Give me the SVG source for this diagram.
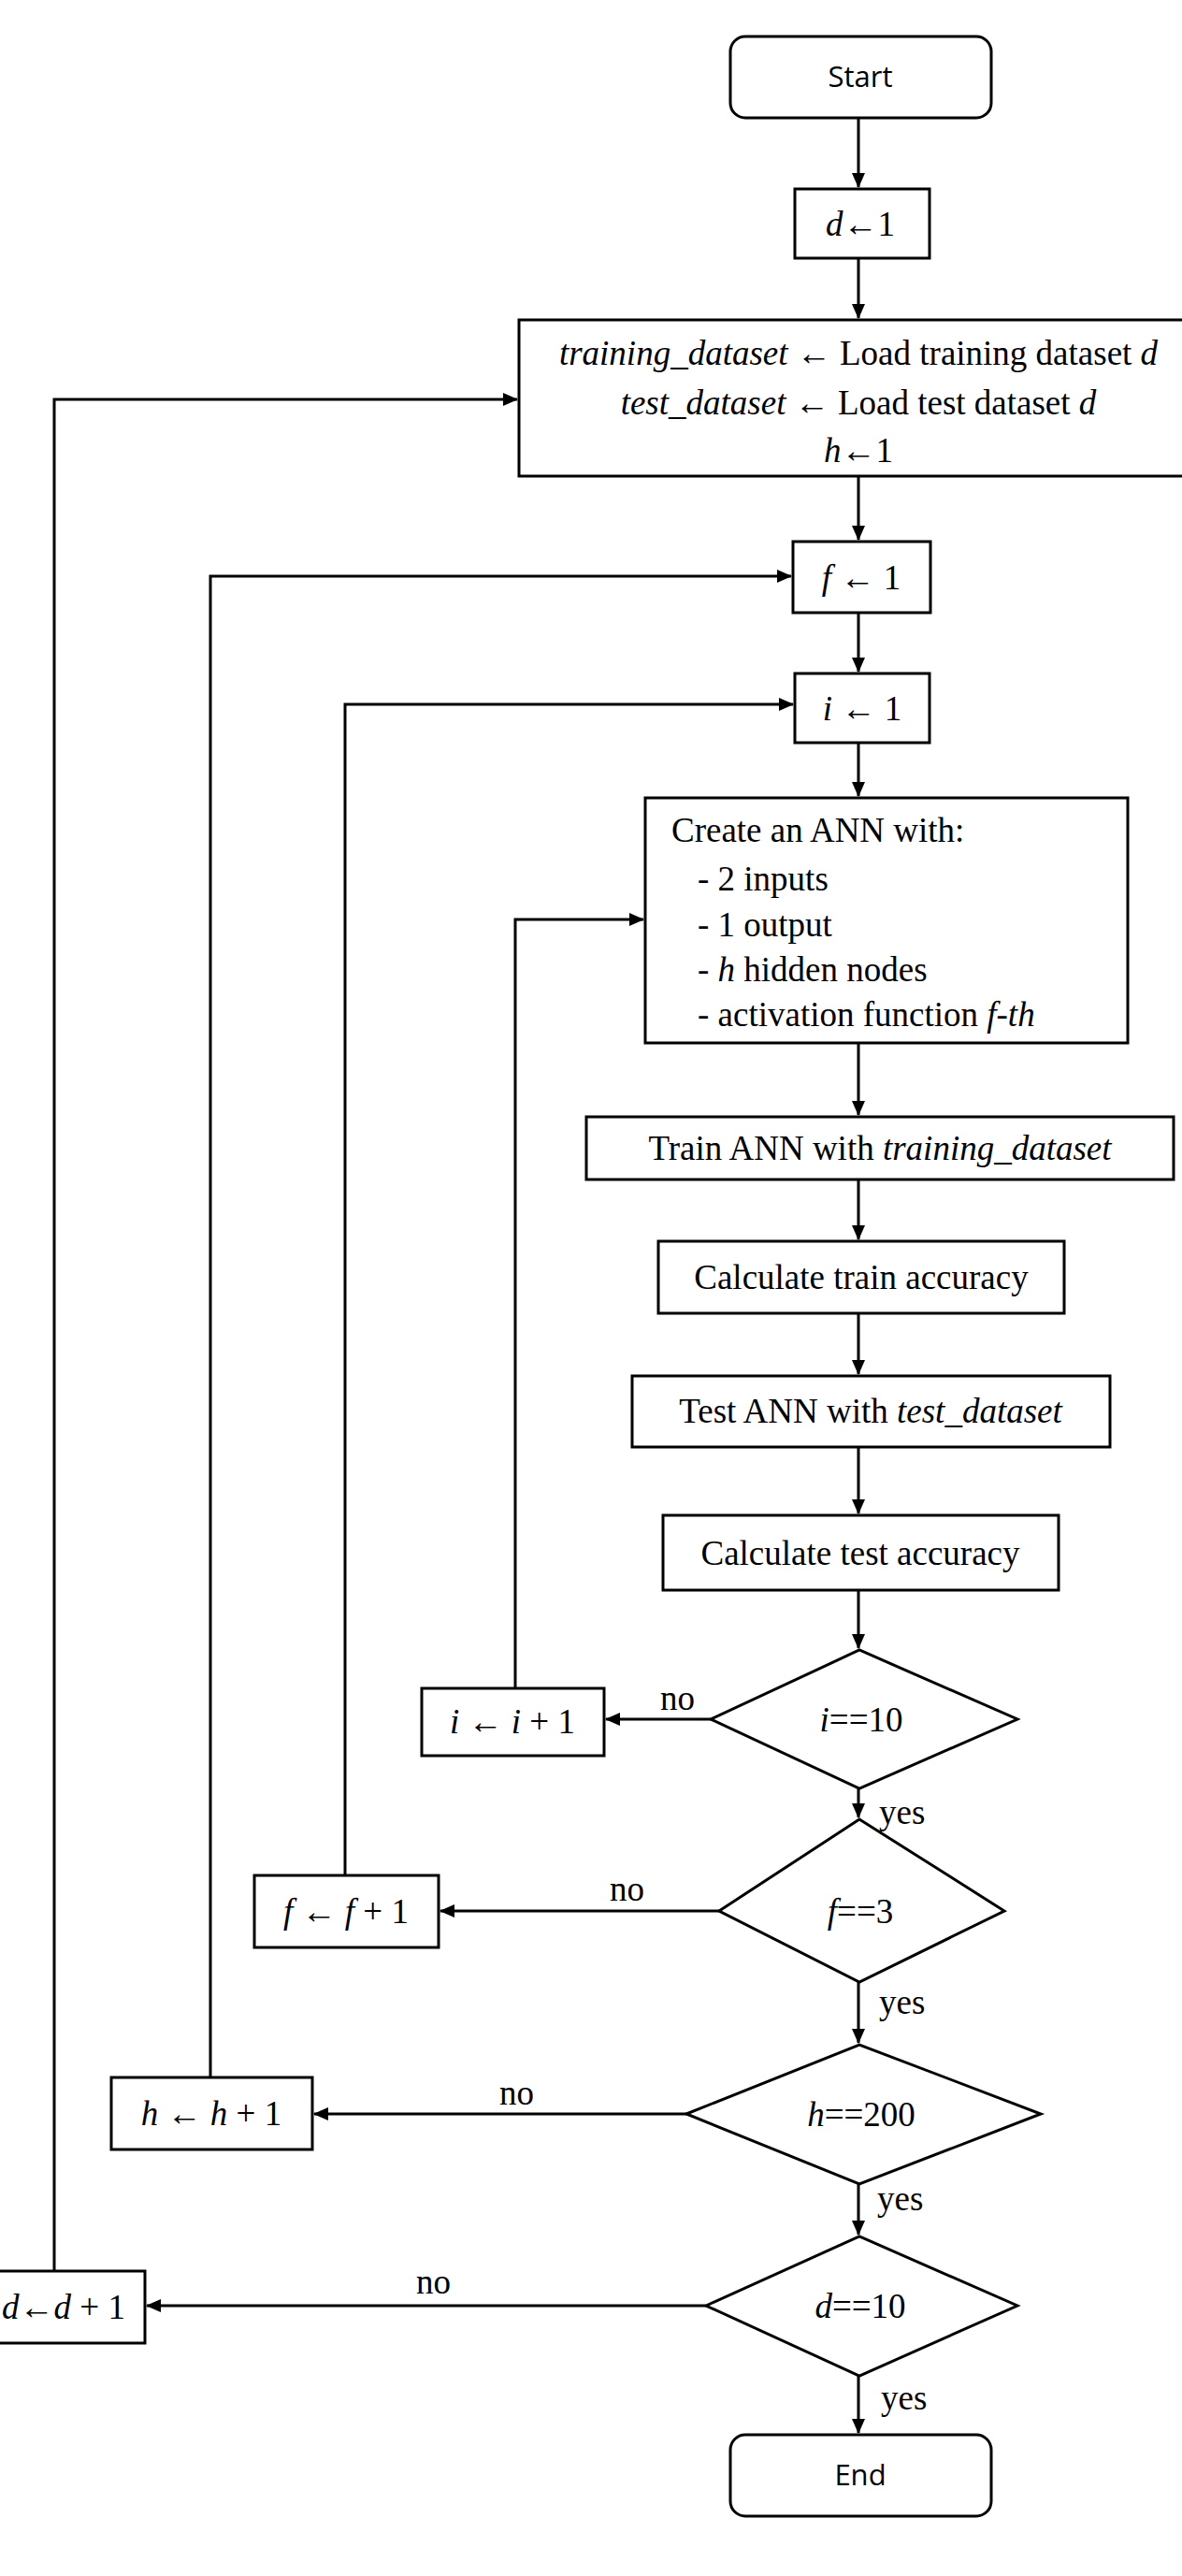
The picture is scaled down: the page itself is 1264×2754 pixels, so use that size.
<svg xmlns="http://www.w3.org/2000/svg" width="1264" height="2754" viewBox="0 0 1264 2754">
<style>
.b{fill:#fff;stroke:#000;stroke-width:3}
.t{font-family:"Liberation Serif",serif;font-size:37px;fill:#000}
.s{font-family:"Open Sans","Liberation Sans",sans-serif;font-size:31px;fill:#000}
.c{fill:none;stroke:#000;stroke-width:3}
.m{text-anchor:middle}
</style>
<defs><marker id="a" markerWidth="16" markerHeight="16" refX="15" refY="8" orient="auto" markerUnits="userSpaceOnUse" viewBox="0 0 16 16"><path d="M0,1L16,8L0,15z" fill="#000"/></marker></defs>
<rect width="1264" height="2754" fill="#fff"/>
<g id="connectors">
<path class="c" marker-end="url(#a)" d="M918,126V200"/>
<path class="c" marker-end="url(#a)" d="M918,276V340"/>
<path class="c" marker-end="url(#a)" d="M918,509V577"/>
<path class="c" marker-end="url(#a)" d="M918,655V718"/>
<path class="c" marker-end="url(#a)" d="M918,794V851"/>
<path class="c" marker-end="url(#a)" d="M918,1115V1192"/>
<path class="c" marker-end="url(#a)" d="M918,1261V1325"/>
<path class="c" marker-end="url(#a)" d="M918,1404V1469"/>
<path class="c" marker-end="url(#a)" d="M918,1547V1618"/>
<path class="c" marker-end="url(#a)" d="M918,1700V1762"/>
<path class="c" marker-end="url(#a)" d="M918,1912V1943"/>
<path class="c" marker-end="url(#a)" d="M918,2119V2184"/>
<path class="c" marker-end="url(#a)" d="M918,2335V2389"/>
<path class="c" marker-end="url(#a)" d="M918,2540V2601"/>
<path class="c" marker-end="url(#a)" d="M760,1838H648"/>
<path class="c" marker-end="url(#a)" d="M769,2043H471"/>
<path class="c" marker-end="url(#a)" d="M734,2260H336"/>
<path class="c" marker-end="url(#a)" d="M755,2465H157"/>
<path class="c" marker-end="url(#a)" d="M551,1805V983H688"/>
<path class="c" marker-end="url(#a)" d="M369,2005V753H848"/>
<path class="c" marker-end="url(#a)" d="M225,2221V616H846"/>
<path class="c" marker-end="url(#a)" d="M58,2428V427H553"/>
<text class="t" x="706" y="1828">no</text>
<text class="t" x="652" y="2032">no</text>
<text class="t" x="534" y="2250">no</text>
<text class="t" x="445" y="2452">no</text>
<text class="t" x="940" y="1950">yes</text>
<text class="t" x="940" y="2153">yes</text>
<text class="t" x="938" y="2363">yes</text>
<text class="t" x="942" y="2576">yes</text>
</g>
<g id="start"><rect class="b" x="781" y="39" width="279" height="87" rx="16"/><text class="s m" x="920" y="93">Start</text></g>
<g id="d1"><rect class="b" x="850" y="202" width="144" height="74"/><text class="t m" x="920" y="252"><tspan font-style="italic">d</tspan>←1</text></g>
<g id="load"><rect class="b" x="555" y="342" width="712" height="167"/>
<text class="t m" x="918" y="390"><tspan font-style="italic">training_dataset</tspan> ← Load training dataset <tspan font-style="italic">d</tspan></text>
<text class="t m" x="918" y="443"><tspan font-style="italic">test_dataset</tspan> ← Load test dataset <tspan font-style="italic">d</tspan></text>
<text class="t m" x="918" y="494"><tspan font-style="italic">h</tspan>←1</text></g>
<g id="f1"><rect class="b" x="848" y="579" width="147" height="76"/><text class="t m" x="921" y="630"><tspan font-style="italic">f</tspan> ← 1</text></g>
<g id="i1"><rect class="b" x="850" y="720" width="144" height="74"/><text class="t m" x="922" y="770"><tspan font-style="italic">i</tspan> ← 1</text></g>
<g id="create"><rect class="b" x="690" y="853" width="516" height="262"/>
<text class="t" x="718" y="900">Create an ANN with:</text>
<text class="t" x="746" y="952">- 2 inputs</text>
<text class="t" x="746" y="1001">- 1 output</text>
<text class="t" x="746" y="1049">- <tspan font-style="italic">h</tspan> hidden nodes</text>
<text class="t" x="746" y="1097">- activation function <tspan font-style="italic">f-th</tspan></text></g>
<g id="train"><rect class="b" x="627" y="1194" width="628" height="67"/><text class="t m" x="941" y="1240">Train ANN with <tspan font-style="italic">training_dataset</tspan></text></g>
<g id="calctrain"><rect class="b" x="704" y="1327" width="434" height="77"/><text class="t m" x="921" y="1378">Calculate train accuracy</text></g>
<g id="test"><rect class="b" x="676" y="1471" width="511" height="76"/><text class="t m" x="931" y="1521">Test ANN with <tspan font-style="italic">test_dataset</tspan></text></g>
<g id="calctest"><rect class="b" x="709" y="1620" width="423" height="80"/><text class="t m" x="920" y="1673">Calculate test accuracy</text></g>
<g id="di"><path class="b" d="M760,1838L919,1764L1088,1838L919,1912Z"/><text class="t m" x="921" y="1851"><tspan font-style="italic">i</tspan>==10</text></g>
<g id="ii"><rect class="b" x="451" y="1805" width="195" height="72"/><text class="t m" x="548" y="1853"><tspan font-style="italic">i</tspan> ← <tspan font-style="italic">i</tspan> + 1</text></g>
<g id="df"><path class="b" d="M769,2043L919,1945L1074,2043L919,2119Z"/><text class="t m" x="920" y="2056"><tspan font-style="italic">f</tspan>==3</text></g>
<g id="ff"><rect class="b" x="272" y="2005" width="197" height="77"/><text class="t m" x="370" y="2056"><tspan font-style="italic">f</tspan> ← <tspan font-style="italic">f</tspan> + 1</text></g>
<g id="dh"><path class="b" d="M734,2260L919,2186L1113,2260L919,2335Z"/><text class="t m" x="921" y="2273"><tspan font-style="italic">h</tspan>==200</text></g>
<g id="hh"><rect class="b" x="119" y="2221" width="215" height="77"/><text class="t m" x="226" y="2272"><tspan font-style="italic">h</tspan> ← <tspan font-style="italic">h</tspan> + 1</text></g>
<g id="dd"><path class="b" d="M755,2465L919,2391L1088,2465L919,2540Z"/><text class="t m" x="920" y="2478"><tspan font-style="italic">d</tspan>==10</text></g>
<g id="ddd"><rect class="b" x="-10" y="2428" width="165" height="77"/><text class="t m" x="68" y="2479"><tspan font-style="italic">d</tspan>←<tspan font-style="italic">d</tspan> + 1</text></g>
<g id="end"><rect class="b" x="781" y="2603" width="279" height="87" rx="16"/><text class="s m" x="920" y="2657">End</text></g>
</svg>
